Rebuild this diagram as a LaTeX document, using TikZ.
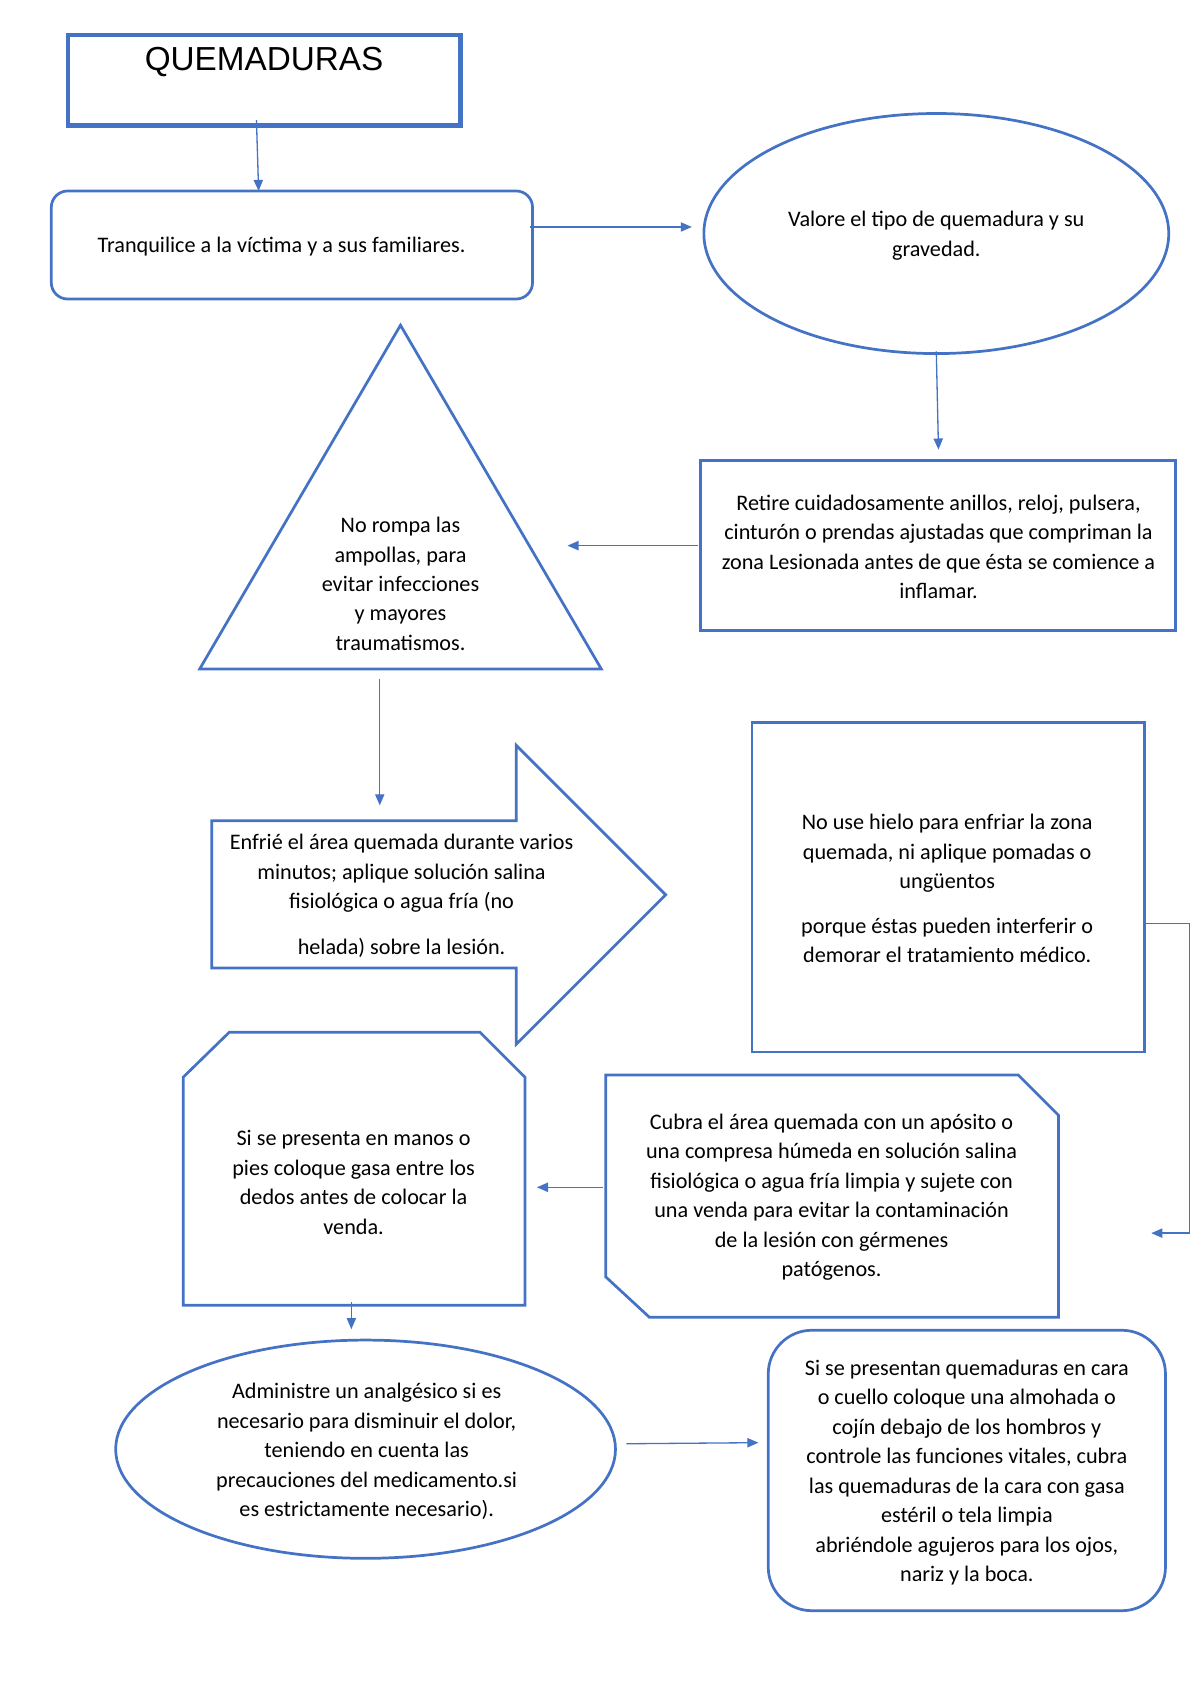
\documentclass[tikz,border=0pt]{standalone}
\usepackage{fontspec}
\setmainfont{Carlito}
\newfontfamily\titlefont{Liberation Sans}
\usetikzlibrary{arrows.meta,shapes.geometric,calc}
\definecolor{wblue}{HTML}{4472C4}
\newcommand\pxu{0.5409pt}
\tikzset{
  shp/.style={draw=wblue, line width=1.35pt, line join=miter},
  conn/.style={draw=wblue, line width=0.65pt, -{Triangle[length=5.5pt,width=4.6pt]}},
  txt/.style={align=center, inner sep=0pt, font=\fontsize{11}{14.6}\selectfont},
}
\begin{document}
\begin{tikzpicture}[x=0.5409pt,y=-0.5409pt]
\useasboundingbox (0,0) rectangle (1100,1556);
% shapes
\node[shp, line width=2pt, rectangle, minimum width=360*\pxu, minimum height=83*\pxu] (q) at (242,73.5) {};
\node[inner sep=0pt, font=\titlefont\fontsize{16.5}{18}\selectfont] (qt) at (242,57) {QUEMADURAS};

\node[shp, rectangle, rounded corners=15*\pxu, minimum width=441*\pxu, minimum height=99*\pxu] (tr) at (267.5,224.5) {};
\node[txt] (trt) at (258,226) {Tranquilice a la víctima y a sus familiares.};

\node[shp, ellipse, minimum width=426*\pxu, minimum height=220*\pxu, inner sep=0pt] (va) at (858,214) {};
\node[txt, font=\fontsize{11}{15.2}\selectfont] (vat) at (858,216) {Valore el tipo de quemadura y su\\gravedad.};

\node[shp, rectangle, minimum width=435*\pxu, minimum height=156*\pxu] (re) at (859.5,500) {};
\node[txt] (ret) at (860,501) {Retire cuidadosamente anillos, reloj, pulsera,\\cinturón o prendas ajustadas que compriman la\\zona Lesionada antes de que ésta se comience a\\inflamar.};

\draw[shp] (367,298) coordinate (triA) -- (551,613) -- (183,613) -- cycle;
\node[txt] (trit) at (367,535) {No rompa las\\ampollas, para\\evitar infecciones\\y mayores\\traumatismos.};

\draw[shp] (194,752) -- (473,752) -- (473,683) -- (610,820) -- (473,957) -- (473,887) -- (194,887) -- cycle;
\node[txt] (ent) at (368,821) {Enfrié el área quemada durante varios\\minutos; aplique solución salina\\fisiológica o agua fría (no\\[8pt]helada) sobre la lesión.};

\node[shp, rectangle, minimum width=360*\pxu, minimum height=302*\pxu] (nu) at (869,813) {};
\node[txt] (nut) at (868,814.5) {No use hielo para enfriar la zona\\quemada, ni aplique pomadas o\\ungüentos\\[7.5pt]porque éstas pueden interferir o\\demorar el tratamiento médico.};

\draw[shp] (168,987) -- (210,946) -- (440,946) -- (481,987) -- (481,1196) -- (168,1196) -- cycle;
\node[txt] (mat) at (324,1083.5) {Si se presenta en manos o\\pies coloque gasa entre los\\dedos antes de colocar la\\venda.};

\draw[shp] (555,985) -- (933,985) -- (970,1022) -- (970,1207) -- (595,1207) -- (555,1170) -- cycle;
\node[txt] (cut) at (762,1097) {Cubra el área quemada con un apósito o\\una compresa húmeda en solución salina\\fisiológica o agua fría limpia y sujete con\\una venda para evitar la contaminación\\de la lesión con gérmenes\\patógenos.};

\node[shp, ellipse, minimum width=458*\pxu, minimum height=200*\pxu, inner sep=0pt] (ad) at (335,1328) {};
\node[txt] (adt) at (336,1330) {Administre un analgésico si es\\necesario para disminuir el dolor,\\teniendo en cuenta las\\precauciones del medicamento.si\\es estrictamente necesario).};

\node[shp, rectangle, rounded corners=40*\pxu, minimum width=364*\pxu, minimum height=257*\pxu] (si) at (886,1347.5) {};
\node[txt] (sit) at (886,1349.5) {Si se presentan quemaduras en cara\\o cuello coloque una almohada o\\cojín debajo de los hombros y\\controle las funciones vitales, cubra\\las quemaduras de la cara con gasa\\estéril o tela limpia\\abriéndole agujeros para los ojos,\\nariz y la boca.};

% connectors
\coordinate (c1a) at (235,110); \coordinate (c1b) at (237,175);
\draw[conn] (c1a) -- (c1b);
\coordinate (c2a) at (486,208); \coordinate (c2b) at (634,208);
\draw[conn] (c2a) -- (c2b);
\coordinate (c3a) at (858,322); \coordinate (c3b) at (860,412);
\draw[conn] (c3a) -- (c3b);
\coordinate (c4a) at (640,500); \coordinate (c4b) at (520,500);
\draw[conn] (c4a) -- (c4b);
\coordinate (c5a) at (348,622); \coordinate (c5b) at (348,738);
\draw[conn] (c5a) -- (c5b);
\coordinate (c6a) at (1049,846); \coordinate (c6b) at (1055,1130);
\draw[conn] (c6a) -- (1090,846) -- (1090,1130) -- (c6b);
\coordinate (c7a) at (553,1088); \coordinate (c7b) at (492,1088);
\draw[conn] (c7a) -- (c7b);
\coordinate (c8a) at (322,1193); \coordinate (c8b) at (322,1218);
\draw[conn] (c8a) -- (c8b);
\coordinate (c9a) at (574,1323); \coordinate (c9b) at (695,1322);
\draw[conn] (c9a) -- (c9b);
\end{tikzpicture}
\end{document}
